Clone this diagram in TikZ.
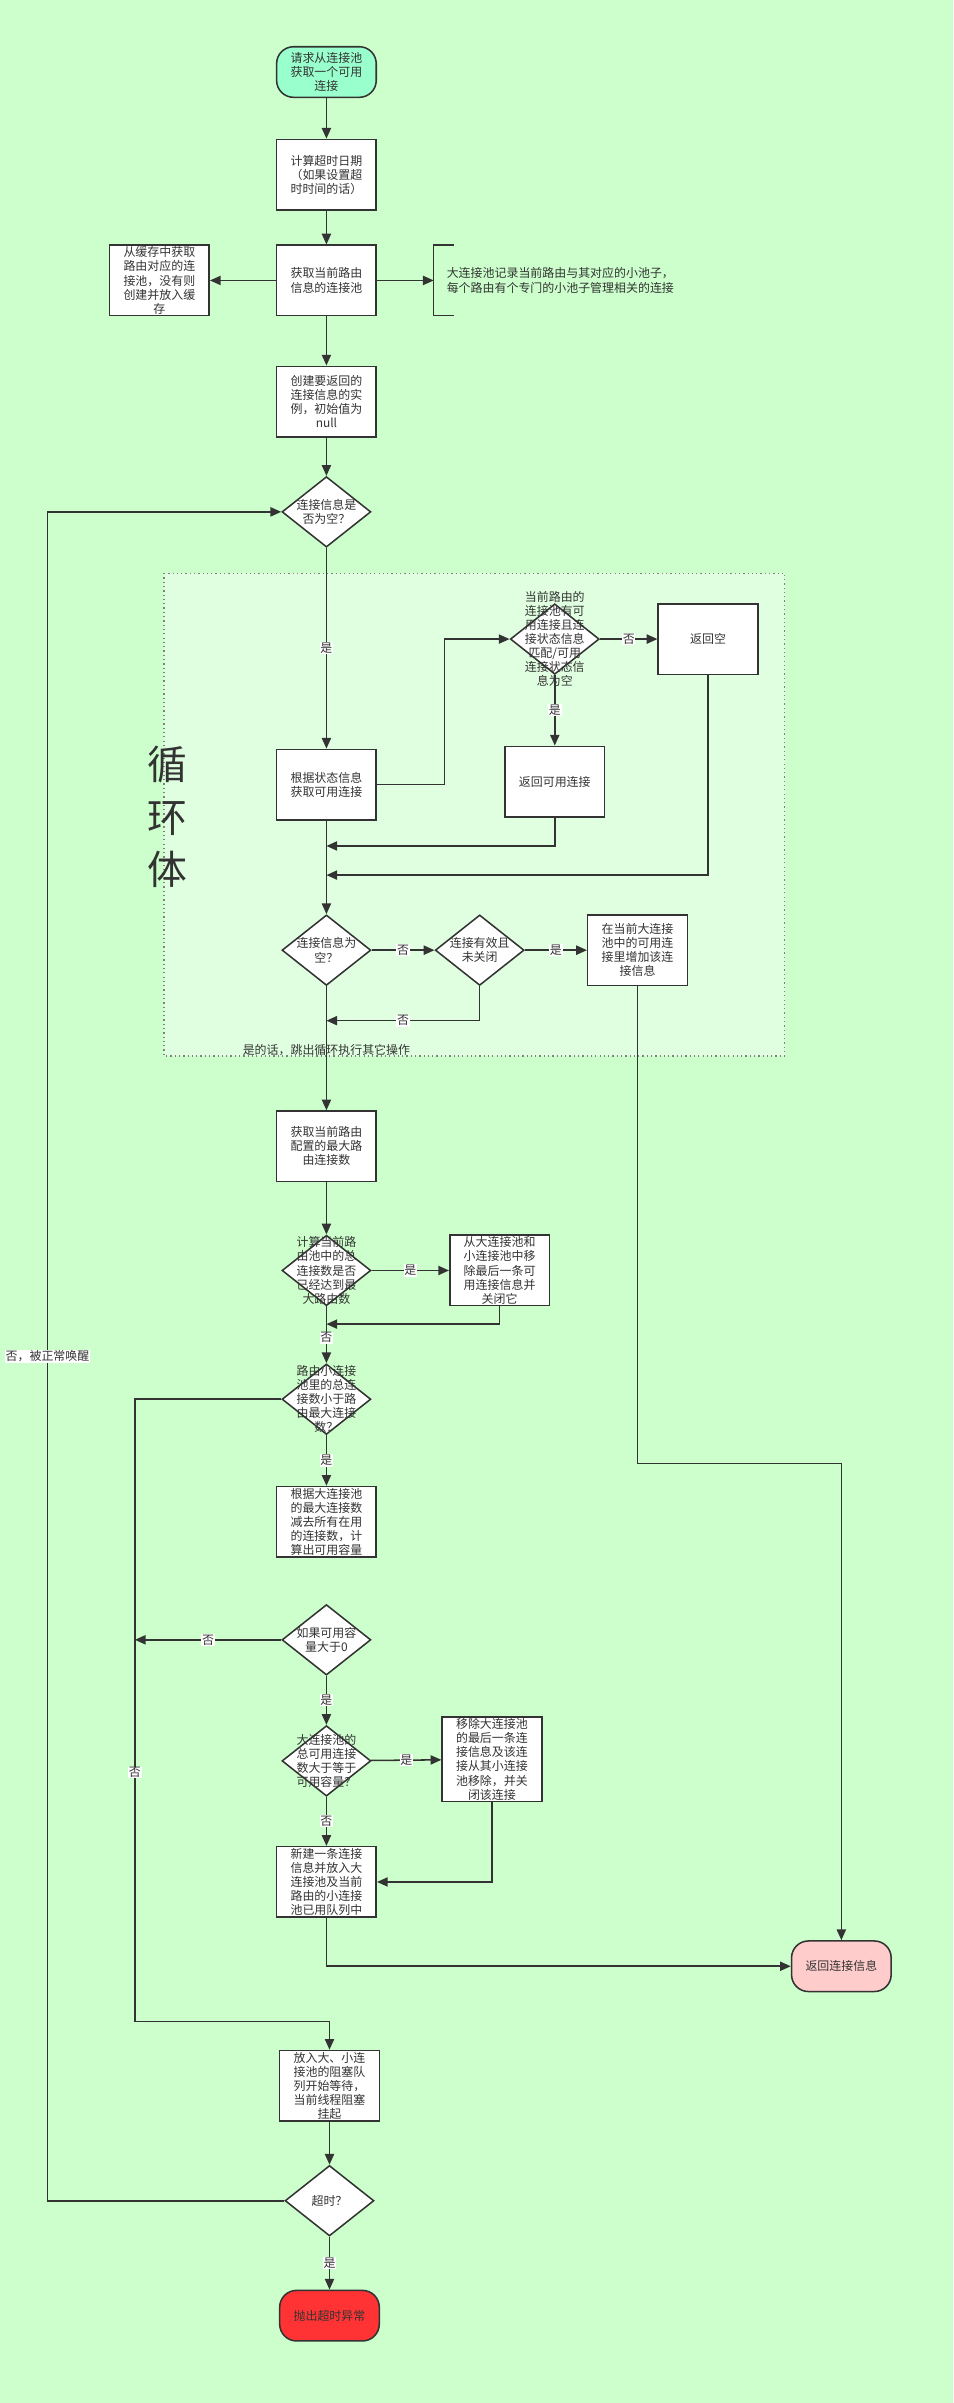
\documentclass[tikz,border=0pt]{standalone}
\usepackage{fontspec}
\setmainfont{Noto Sans CJK SC}
\usepackage{tikz}
\usetikzlibrary{positioning,arrows.meta,shapes.geometric,calc}
\definecolor{bgcolor}{RGB}{204,255,204}
\definecolor{loopcolor}{RGB}{224,255,224}
\definecolor{startcolor}{RGB}{153,255,204}
\definecolor{retcolor}{RGB}{255,204,204}
\definecolor{errcolor}{RGB}{255,51,51}
\definecolor{linecolor}{RGB}{51,51,51}
\tikzset{
  box/.style={draw=linecolor, line width=1pt, fill=white, minimum width=65pt, minimum height=46pt, inner sep=1pt, align=center, font=\fontsize{7.8}{9.2}\selectfont, text=linecolor},
  term/.style={box, rounded corners=11pt, minimum height=33pt},
  dec/.style={draw=linecolor, line width=1pt, fill=white, diamond, minimum width=58pt, minimum height=46pt, inner sep=0pt},
  dtext/.style={align=center, font=\fontsize{7.8}{9.2}\selectfont, text=linecolor},
  flow/.style={draw=linecolor, line width=1pt, -{Triangle[length=7pt,width=6pt]}},
  line/.style={draw=linecolor, line width=1pt},
  lbl/.style={fill=white, inner sep=0.5pt, font=\fontsize{7.8}{9.2}\selectfont, text=linecolor}
}
\begin{document}
\begin{tikzpicture}[x=1pt,y=-1pt]
  % Background
  \fill[bgcolor] (0,0) rectangle (622,1568);
  \useasboundingbox (0,0) rectangle (622,1568);
  \fill[loopcolor] (107,374) rectangle (512,689);
  \draw[gray, dotted, line width=0.8pt] (107,374) rectangle (512,689);
  \node[font=\fontsize{26}{34}\selectfont, text=linecolor, align=center] (loopTitle) at (109,533) {循\\环\\体};

  % Top part
  \node[term, fill=startcolor] (start) at (213,47) {请求从连接池\\获取一个可用\\连接};
  \node[box] (calcTimeout) at (213,114) {计算超时日期\\（如果设置超\\时时间的话）};
  \node[box] (getPool) at (213,183) {获取当前路由\\信息的连接池};
  \node[box] (cachePool) at (104,183) {从缓存中获取\\路由对应的连\\接池，没有则\\创建并放入缓\\存};
  \coordinate (brTop) at (296,160);
  \coordinate (brMid) at (283,183);
  \coordinate (brBot) at (296,206);
  \node[dtext, anchor=west, align=left] (poolNote) at (288,183) {大连接池记录当前路由与其对应的小池子，\\每个路由有个专门的小池子管理相关的连接};
  \node[box] (newInfo) at (213,262) {创建要返回的\\连接信息的实\\例，初始值为\\null};
  \node[dec, label={[dtext]center:连接信息是\\否为空？}] (isNull) at (213,334) {};

  % Loop body
  \node[box] (getAvail) at (213,512) {根据状态信息\\获取可用连接};
  \node[dec, label={[dtext]center:当前路由的\\连接池有可\\用连接且连\\接状态信息\\匹配/可用\\连接状态信\\息为空}] (hasFree) at (362,417) {};
  \node[box] (retNull) at (462,417) {返回空};
  \node[box] (retFree) at (362,510) {返回可用连接};
  \node[dec, label={[dtext]center:连接信息为\\空？}] (infoNull) at (213,620) {};
  \node[dec, label={[dtext]center:连接有效且\\未关闭}] (isValid) at (313,620) {};
  \node[box] (addFree) at (416,620) {在当前大连接\\池中的可用连\\接里增加该连\\接信息};
  \node[dtext] (breakNote) at (213,685) {是的话，跳出循环执行其它操作};

  % After loop
  \node[box] (getMax) at (213,748) {获取当前路由\\配置的最大路\\由连接数};
  \node[dec, label={[dtext]center:计算当前路\\由池中的总\\连接数是否\\已经达到最\\大路由数}] (reachMax) at (213,829) {};
  \node[box] (removeLast) at (326,829) {从大连接池和\\小连接池中移\\除最后一条可\\用连接信息并\\关闭它};
  \node[dec, label={[dtext]center:路由小连接\\池里的总连\\接数小于路\\由最大连接\\数？}] (lessMax) at (213,913) {};
  \node[box] (calcCap) at (213,993) {根据大连接池\\的最大连接数\\减去所有在用\\的连接数，计\\算出可用容量};
  \node[dec, label={[dtext]center:如果可用容\\量大于0}] (capPos) at (213,1070) {};
  \node[dec, label={[dtext]center:大连接池的\\总可用连接\\数大于等于\\可用容量？}] (freeEnough) at (213,1149) {};
  \node[box] (evict) at (321,1148) {移除大连接池\\的最后一条连\\接信息及该连\\接从其小连接\\池移除，并关\\闭该连接};
  \node[box] (newConn) at (213,1228) {新建一条连接\\信息并放入大\\连接池及当前\\路由的小连接\\池已用队列中};
  \node[term, fill=retcolor] (retConn) at (549,1283) {返回连接信息};
  \node[box] (wait) at (215,1361) {放入大、小连\\接池的阻塞队\\列开始等待，\\当前线程阻塞\\挂起};
  \node[dec, label={[dtext]center:超时？}] (timeout) at (215,1436) {};
  \node[term, fill=errcolor] (throwErr) at (215,1511) {抛出超时异常};

  % Connectors
  \draw[flow] (start) -- (calcTimeout);
  \draw[flow] (calcTimeout) -- (getPool);
  \draw[flow] (getPool) -- (cachePool);
  \draw[flow] (getPool) -- (brMid);
  \draw[line] (brTop) -- (brTop -| brMid) -- (brBot -| brMid) -- (brBot);
  \draw[flow] (getPool) -- (newInfo);
  \draw[flow] (newInfo) -- (isNull);
  \draw[flow] (isNull) -- node[lbl] {是} (getAvail);
  \draw[flow] (getAvail.east) -- (290,512) |- (hasFree.west);
  \draw[flow] (hasFree) -- node[lbl] {否} (retNull);
  \draw[flow] (hasFree) -- node[lbl] {是} (retFree);
  \draw[flow] (retFree.south) |- (213,552);
  \draw[flow] (retNull.south) |- (213,571);
  \draw[flow] (getAvail) -- (infoNull);
  \draw[flow] (infoNull) -- node[lbl] {否} (isValid);
  \draw[flow] (isValid) -- node[lbl] {是} (addFree);
  \draw[flow] (isValid.south) |- node[lbl, pos=0.75] {否} (213,666);
  \draw[flow] (infoNull) -- (getMax);
  \draw[flow] (getMax) -- (reachMax);
  \draw[flow] (reachMax) -- node[lbl] {是} (removeLast);
  \draw[flow] (removeLast.south) |- (213,864);
  \draw[flow] (reachMax) -- node[lbl, pos=0.55] {否} (lessMax);
  \draw[flow] (lessMax) -- node[lbl] {是} (calcCap);
  \draw[flow] (lessMax.west) -| node[lbl, pos=0.8] {否} (88,1319) -| (wait.north);
  \draw[flow] (capPos) -- node[lbl] {否} (88,1070);
  \draw[flow] (capPos) -- node[lbl] {是} (freeEnough);
  \draw[flow] (freeEnough) -- node[lbl] {是} (evict);
  \draw[flow] (freeEnough) -- node[lbl] {否} (newConn);
  \draw[flow] (evict.south) |- (newConn.east);
  \draw[flow] (newConn.south) |- (retConn.west);
  \draw[flow] (addFree.south) |- (549,955) -- (retConn.north);
  \draw[flow] (wait) -- (timeout);
  \draw[flow] (timeout) -- node[lbl] {是} (throwErr);
  \draw[flow] (timeout.west) -| node[lbl, pos=0.75] {否，被正常唤醒} (31,334) -- (isNull.west);
\end{tikzpicture}
\end{document}
